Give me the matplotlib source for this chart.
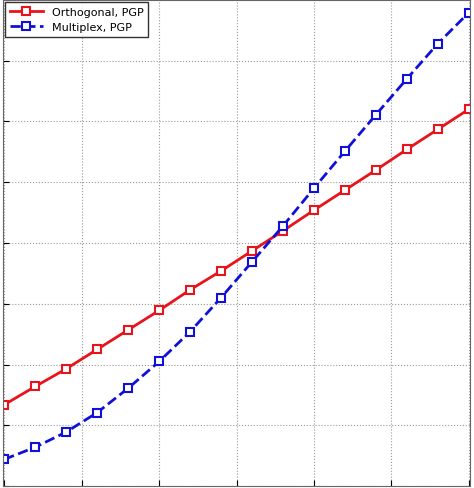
import matplotlib
matplotlib.use("Agg")
import matplotlib.pyplot as plt
import numpy as np

x = list(range(16))
orth = [1.34,1.64,1.93,2.25,2.57,2.89,3.23,3.54,3.87,4.20,4.54,4.87,5.20,5.54,5.87,6.20]
mult = [0.44,0.64,0.89,1.21,1.61,2.05,2.54,3.10,3.69,4.28,4.90,5.51,6.11,6.70,7.28,7.79]

fig = plt.figure(figsize=(4.74,4.89), dpi=100)
ax = fig.add_axes([0.006,0.004,0.986,0.994])
ax.plot(x, orth, '-s', color='#e8131b', lw=2, ms=6, mfc='white', mew=1.5, label='Orthogonal, PGP')
ax.plot(x, mult, '--s', color='#1010d8', lw=2, ms=6, mfc='white', mew=1.5, label='Multiplex, PGP')
ax.set_xlim(-0.05,15.05)
ax.set_ylim(0,8)
ax.set_xticks(np.arange(0,15.1,2.5))
ax.set_yticks(np.arange(0,8.1,1))
ax.grid(True, ls=':', color='#999999', lw=0.8)
ax.tick_params(direction='in', labelbottom=False, labelleft=False, length=4)
for s in ax.spines.values():
    s.set_color('#666666')
ax.legend(loc='upper left', fontsize=8, frameon=True, fancybox=False, edgecolor='black',
          borderaxespad=0.2, handlelength=3)
fig.savefig('out.png', dpi=100)
